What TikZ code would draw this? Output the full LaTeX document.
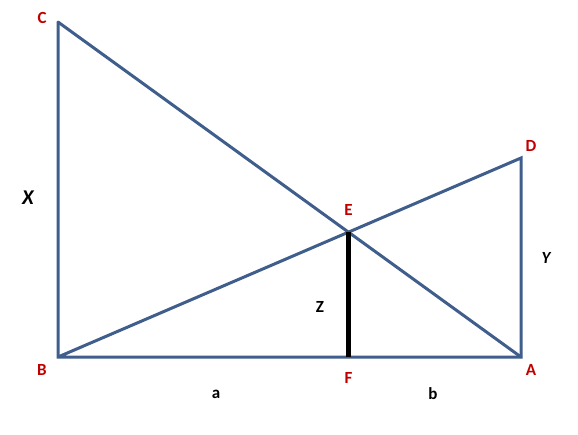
\documentclass[tikz,border=0pt]{standalone}
\usepackage{fontspec}
\setmainfont{Carlito}
\usetikzlibrary{calc,intersections}
\definecolor{edge}{HTML}{3F5E8C}
\definecolor{lbl}{HTML}{C00000}
\tikzset{
  seg/.style={draw=edge, line width=3pt, line cap=round, line join=miter},
  vlbl/.style={text=lbl, font=\bfseries\fontsize{17}{20}\selectfont, inner sep=0pt},
  mlbl/.style={text=black, font=\bfseries\fontsize{17}{20}\selectfont, inner sep=0pt},
}
\begin{document}
\begin{tikzpicture}[x=1pt,y=-1pt]
\useasboundingbox (0,0) rectangle (578,434);
\coordinate (B) at (58,357);
\coordinate (C) at (58,22);
\coordinate (A) at (521,357);
\coordinate (D) at (521,158);
\path[name path=ca] (C) -- (A);
\path[name path=bd] (B) -- (D);
\path[name intersections={of=ca and bd, by=E}];
\coordinate (F) at (E |- B);
\draw[seg] (C) -- (B) -- (A) -- (D) -- (B);
\draw[seg] (C) -- (A);
\draw[line width=5pt, black] (E) -- (F);
\node[vlbl] (lC) at (42,18) {C};
\node[vlbl] (lD) at (531,146) {D};
\node[vlbl] (lE) at (E |- 0,210) {E};
\node[vlbl] (lB) at (42,370) {B};
\node[vlbl] (lF) at (F |- 0,378) {F};
\node[vlbl] (lA) at (531,370) {A};
\node[mlbl, font=\bfseries\itshape\fontsize{21}{24}\selectfont] (lX) at (28,198) {X};
\node[mlbl, font=\bfseries\itshape\fontsize{17}{20}\selectfont] (lY) at (546,258) {Y};
\node[mlbl] (lZ) at (320,307) {Z};
\node[mlbl] (la) at (216,394) {a};
\node[mlbl] (lb) at (433,394) {b};
\end{tikzpicture}
\end{document}
